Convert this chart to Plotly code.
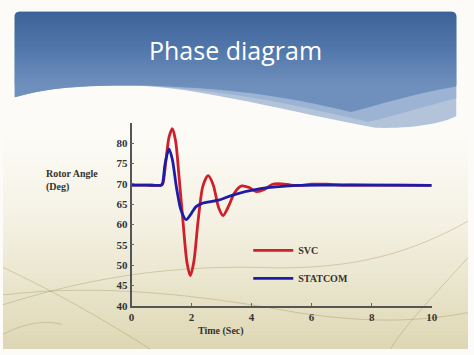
import plotly.graph_objects as go

# ---------------- data ----------------
svc_t = [0.0, 0.5, 1.0, 1.05, 1.15, 1.25, 1.36, 1.47, 1.58, 1.7, 1.85, 1.96, 2.08, 2.22, 2.38, 2.55,
         2.72, 2.9, 3.05, 3.22, 3.45, 3.67, 3.92, 4.16, 4.42, 4.7, 5.0, 5.3, 5.6, 6.0, 6.5, 7.0, 8.0, 9.0, 10.0]
svc_v = [69.7, 69.7, 69.7, 70.2, 76.0, 81.5, 83.6, 80.5, 72.0, 62.0, 50.5, 47.4, 51.0, 61.0, 69.5, 72.0,
         69.8, 64.2, 62.2, 64.3, 68.0, 69.5, 69.1, 68.1, 68.6, 69.9, 70.0, 69.7, 69.6, 69.9, 69.9, 69.7, 69.7, 69.7, 69.6]

stat_t = [0.0, 0.5, 1.0, 1.04, 1.12, 1.25, 1.36, 1.5, 1.65, 1.82, 2.0, 2.15, 2.35, 2.9, 3.4, 4.3, 5.5, 6.5, 8.0, 10.0]
stat_v = [69.7, 69.7, 69.7, 70.3, 75.0, 78.6, 76.0, 69.0, 63.5, 61.2, 62.8, 64.4, 65.2, 66.0, 67.3, 68.8, 69.6, 69.7, 69.7, 69.6]

x_ticks = [0, 2, 4, 6, 8, 10]
y_ticks = [40, 45, 50, 55, 60, 65, 70, 75, 80]

W, H = 474, 355


def P(x, y):
    return f"{x / W:.4f},{1 - y / H:.4f}"


def lerp_color(stops, y):
    for (ya, ca), (yb, cb) in zip(stops, stops[1:]):
        if ya <= y <= yb:
            f = (y - ya) / (yb - ya) if yb > ya else 0
            c = [round(a + (b - a) * f) for a, b in zip(ca, cb)]
            return "rgb({},{},{})".format(*c)
    c = stops[-1][1] if y > stops[-1][0] else stops[0][1]
    return "rgb({},{},{})".format(*c)


shapes = []

# slide background gradient: non-overlapping solid strips
bg_stops = [(0, (252, 251, 247)), (150, (251, 250, 244)), (220, (245, 242, 229)),
            (280, (235, 231, 208)), (355, (222, 215, 180))]
n_bg = 45
for i in range(n_bg):
    y0 = 140 + i * (355 - 140) / n_bg
    y1 = 140 + (i + 1) * (355 - 140) / n_bg + 0.6
    shapes.append(dict(type="rect", xref="paper", yref="paper", x0=0, x1=1,
                       y0=max(0, 1 - y1 / H), y1=1 - y0 / H,
                       fillcolor=lerp_color(bg_stops, (y0 + y1) / 2), line=dict(width=0), layer="below"))

# faint decorative background curves
curve_col = "rgba(150,130,80,0.33)"
for path in [
    f"M{P(0,300)} C{P(100,288)} {P(200,300)} {P(300,318)} C{P(380,330)} {P(430,326)} {P(474,318)}",
    f"M{P(0,272)} C{P(60,300)} {P(110,330)} {P(150,355)}",
    f"M{P(0,310)} C{P(80,285)} {P(160,270)} {P(260,272)} C{P(360,276)} {P(420,255)} {P(474,225)}",
    f"M{P(474,262)} C{P(440,300)} {P(410,330)} {P(395,355)}",
    f"M{P(0,340)} C{P(20,330)} {P(40,325)} {P(60,330)}",
]:
    shapes.append(dict(type="path", xref="paper", yref="paper", path=path,
                       line=dict(color=curve_col, width=1), layer="below"))

# header: full area (light blue wave colour)
header_full = (f"M{P(12,17)} Q{P(12,12)} {P(17,12)} L{P(457,12)} Q{P(462,12)} {P(462,17)} L{P(462,118)} "
               f"C{P(450,125)} {P(420,131)} {P(380,130)} C{P(300,116)} {P(200,88)} {P(130,87)} "
               f"C{P(70,86)} {P(40,90)} {P(12,99)} Z")
shapes.append(dict(type="path", xref="paper", yref="paper", path=header_full,
                   fillcolor="#b3c3d9", line=dict(width=0), layer="below"))
# medium band
header_mid = (f"M{P(12,17)} L{P(462,17)} L{P(462,100)} C{P(430,108)} {P(400,118)} {P(372,124)} "
              f"C{P(320,112)} {P(240,92)} {P(140,87)} C{P(80,86)} {P(40,90)} {P(12,99)} Z")
shapes.append(dict(type="path", xref="paper", yref="paper", path=header_mid,
                   fillcolor="#9cb3d3", line=dict(width=0), layer="below"))
# dark main region
header_dark = (f"M{P(12,17)} Q{P(12,12)} {P(17,12)} L{P(457,12)} Q{P(462,12)} {P(462,17)} L{P(462,88)} "
               f"C{P(420,95)} {P(385,106)} {P(355,114)} C{P(320,106)} {P(260,90)} {P(140,87)} "
               f"C{P(80,86)} {P(40,90)} {P(12,99)} Z")
shapes.append(dict(type="path", xref="paper", yref="paper", path=header_dark,
                   fillcolor="#6f90bc", line=dict(width=0), layer="below"))
# vertical gradient on header: solid strips
hd_stops = [(12, (60, 99, 153)), (50, (81, 118, 170)), (87, (111, 144, 188))]
n_hd = 25
for i in range(n_hd):
    y0 = 12 + i * (86 - 12) / n_hd
    y1 = 12 + (i + 1) * (86 - 12) / n_hd + 0.6
    col = lerp_color(hd_stops, (y0 + y1) / 2)
    if i == 0:
        path = (f"M{P(12,y1)} L{P(12,17)} Q{P(12,12)} {P(17,12)} L{P(457,12)} Q{P(462,12)} {P(462,17)} "
                f"L{P(462,y1)} Z")
    else:
        path = f"M{P(12,y0)} L{P(462,y0)} L{P(462,y1)} L{P(12,y1)} Z"
    shapes.append(dict(type="path", xref="paper", yref="paper", path=path,
                       fillcolor=col, line=dict(width=0), layer="below"))

serif = "Liberation Serif"
fig = go.Figure()
fig.add_trace(go.Scatter(x=svc_t, y=svc_v, mode="lines", name="SVC",
                         line=dict(color="#cf1f2b", width=2.8, shape="spline", smoothing=0.8),
                         legendgroup="a"))
fig.add_trace(go.Scatter(x=stat_t, y=stat_v, mode="lines", name="STATCOM",
                         line=dict(color="#1c1ca6", width=2.8, shape="spline", smoothing=0.8),
                         legendgroup="b"))

fig.update_layout(
    width=W, height=H, autosize=False,
    margin=dict(l=0, r=0, t=0, b=0),
    paper_bgcolor="#fcfbf7", plot_bgcolor="rgba(0,0,0,0)",
    shapes=shapes,
    showlegend=True,
    legend=dict(x=250 / W, y=1 - 240 / H, xanchor="left", yanchor="top",
                bgcolor="rgba(0,0,0,0)", tracegroupgap=9,
                font=dict(family=serif, size=10, color="#333333", weight="bold"),
                itemwidth=40),
    xaxis=dict(domain=[131 / W, 437 / W], range=[0, 10], tickvals=x_ticks,
               showgrid=False, zeroline=False, showline=True, linecolor="#555555", linewidth=1.5,
               ticks="inside", ticklen=3, tickcolor="#666666",
               tickfont=dict(family=serif, size=11, color="#333333", weight="bold")),
    yaxis=dict(domain=[1 - 311 / H, 1 - 125 / H], range=[40, 85], tickvals=y_ticks,
               showgrid=False, zeroline=False, showline=True, linecolor="#555555", linewidth=1.5,
               ticks="inside", ticklen=3, tickcolor="#666666",
               tickfont=dict(family=serif, size=11, color="#333333", weight="bold")),
    annotations=[
        dict(text="Phase diagram", xref="paper", yref="paper", x=237 / W, y=1 - 51 / H,
             xanchor="center", yanchor="middle", showarrow=False,
             font=dict(family="Open Sans", size=25, color="white")),
        dict(text="Rotor Angle<br>(Deg)", xref="paper", yref="paper", x=42 / W, y=1 - 184 / H,
             xanchor="left", yanchor="middle", align="left", showarrow=False,
             font=dict(family=serif, size=10, color="#333333", weight="bold")),
        dict(text="Time (Sec)", xref="paper", yref="paper", x=222 / W, y=1 - 337 / H,
             xanchor="center", yanchor="middle", showarrow=False,
             font=dict(family=serif, size=10, color="#333333", weight="bold")),
    ],
)

fig.write_html("out.html")
